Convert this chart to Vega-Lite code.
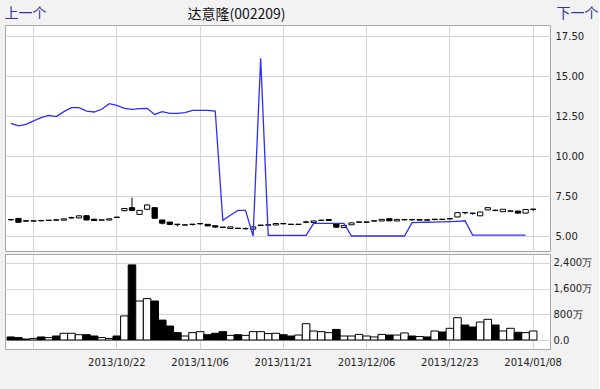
{
  "$schema": "https://vega.github.io/schema/vega-lite/v6.json",
  "padding": {"left": 3, "top": 5, "right": 0, "bottom": 23},
  "background": "#f2f2f2",
  "config": {
    "view": {"fill": "white", "stroke": "#a8a8a8", "strokeWidth": 1},
    "axis": {"labelFont": "DejaVu Sans", "labelFontSize": 10, "labelColor": "#222222", "gridColor": "#d4d4d4", "gridWidth": 1, "ticks": false, "domain": false, "titleFont": "Noto Sans CJK SC", "minExtent": 0},
    "concat": {"spacing": 1}
  },
  "data": {"values": [
    {"date":"2013/09/25","open":6.03,"high":6.08,"low":5.97,"close":6.01,"vol":95,"blue":12.04},
    {"date":"2013/09/26","open":6.10,"high":6.12,"low":5.84,"close":5.86,"vol":75,"blue":11.88},
    {"date":"2013/09/27","open":5.95,"high":5.99,"low":5.89,"close":5.93,"vol":30,"blue":11.98},
    {"date":"2013/09/30","open":5.93,"high":5.96,"low":5.92,"close":5.95,"vol":50,"blue":12.19},
    {"date":"2013/10/08","open":5.97,"high":5.98,"low":5.94,"close":5.95,"vol":95,"blue":12.40},
    {"date":"2013/10/09","open":5.97,"high":6.00,"low":5.96,"close":5.99,"vol":75,"blue":12.54},
    {"date":"2013/10/10","open":6.01,"high":6.02,"low":5.98,"close":5.99,"vol":125,"blue":12.46},
    {"date":"2013/10/11","open":5.99,"high":6.08,"low":5.98,"close":6.07,"vol":210,"blue":12.77},
    {"date":"2013/10/14","open":6.13,"high":6.20,"low":6.09,"close":6.15,"vol":210,"blue":13.02},
    {"date":"2013/10/15","open":6.13,"high":6.28,"low":6.12,"close":6.26,"vol":165,"blue":13.02},
    {"date":"2013/10/16","open":6.27,"high":6.28,"low":5.99,"close":6.00,"vol":165,"blue":12.81},
    {"date":"2013/10/17","open":6.05,"high":6.06,"low":5.95,"close":5.97,"vol":125,"blue":12.75},
    {"date":"2013/10/18","open":5.99,"high":6.02,"low":5.98,"close":6.01,"vol":75,"blue":12.92},
    {"date":"2013/10/21","open":6.00,"high":6.08,"low":5.99,"close":6.07,"vol":50,"blue":13.27},
    {"date":"2013/10/22","open":6.18,"high":6.19,"low":6.15,"close":6.16,"vol":125,"blue":13.17},
    {"date":"2013/10/23","open":6.58,"high":6.74,"low":6.56,"close":6.72,"vol":750,"blue":12.98},
    {"date":"2013/10/24","open":6.77,"high":7.40,"low":6.55,"close":6.60,"vol":2340,"blue":12.92},
    {"date":"2013/10/25","open":6.35,"high":6.62,"low":6.33,"close":6.60,"vol":1215,"blue":12.96},
    {"date":"2013/10/28","open":6.67,"high":6.98,"low":6.65,"close":6.94,"vol":1290,"blue":12.98},
    {"date":"2013/10/29","open":6.77,"high":6.78,"low":6.10,"close":6.11,"vol":1215,"blue":12.60},
    {"date":"2013/10/30","open":6.00,"high":6.01,"low":5.72,"close":5.80,"vol":620,"blue":12.77},
    {"date":"2013/10/31","open":5.87,"high":5.88,"low":5.68,"close":5.72,"vol":436,"blue":12.67},
    {"date":"2013/11/01","open":5.74,"high":5.75,"low":5.60,"close":5.71,"vol":230,"blue":12.67},
    {"date":"2013/11/04","open":5.68,"high":5.71,"low":5.67,"close":5.70,"vol":125,"blue":12.71},
    {"date":"2013/11/05","open":5.72,"high":5.75,"low":5.66,"close":5.74,"vol":230,"blue":12.85},
    {"date":"2013/11/06","open":5.76,"high":5.82,"low":5.72,"close":5.78,"vol":260,"blue":12.85},
    {"date":"2013/11/07","open":5.73,"high":5.74,"low":5.62,"close":5.63,"vol":165,"blue":12.85},
    {"date":"2013/11/08","open":5.64,"high":5.65,"low":5.50,"close":5.56,"vol":210,"blue":12.81},
    {"date":"2013/11/11","open":5.56,"high":5.57,"low":5.52,"close":5.53,"vol":260,"blue":5.98},
    {"date":"2013/11/12","open":5.47,"high":5.58,"low":5.46,"close":5.57,"vol":145,"blue":6.30},
    {"date":"2013/11/13","open":5.49,"high":5.50,"low":5.46,"close":5.47,"vol":165,"blue":6.60},
    {"date":"2013/11/14","open":5.45,"high":5.52,"low":5.41,"close":5.47,"vol":145,"blue":6.60},
    {"date":"2013/11/15","open":5.43,"high":5.58,"low":5.40,"close":5.57,"vol":260,"blue":5.00},
    {"date":"2013/11/18","open":5.66,"high":5.69,"low":5.65,"close":5.68,"vol":260,"blue":16.10},
    {"date":"2013/11/19","open":5.68,"high":5.71,"low":5.67,"close":5.70,"vol":200,"blue":5.04},
    {"date":"2013/11/20","open":5.69,"high":5.79,"low":5.68,"close":5.78,"vol":210,"blue":5.04},
    {"date":"2013/11/21","open":5.78,"high":5.79,"low":5.75,"close":5.76,"vol":165,"blue":5.04},
    {"date":"2013/11/22","open":5.74,"high":5.75,"low":5.71,"close":5.72,"vol":125,"blue":5.04},
    {"date":"2013/11/25","open":5.72,"high":5.75,"low":5.71,"close":5.74,"vol":155,"blue":5.04},
    {"date":"2013/11/26","open":5.86,"high":5.95,"low":5.80,"close":5.88,"vol":508,"blue":5.04},
    {"date":"2013/11/27","open":5.84,"high":5.95,"low":5.83,"close":5.94,"vol":280,"blue":5.79},
    {"date":"2013/11/28","open":5.97,"high":6.02,"low":5.94,"close":5.99,"vol":260,"blue":5.79},
    {"date":"2013/11/29","open":5.97,"high":6.04,"low":5.96,"close":6.03,"vol":230,"blue":5.79},
    {"date":"2013/12/02","open":5.77,"high":5.78,"low":5.52,"close":5.55,"vol":330,"blue":5.79},
    {"date":"2013/12/03","open":5.53,"high":5.67,"low":5.52,"close":5.66,"vol":125,"blue":5.79},
    {"date":"2013/12/04","open":5.70,"high":5.83,"low":5.69,"close":5.82,"vol":125,"blue":5.00},
    {"date":"2013/12/05","open":5.86,"high":5.91,"low":5.83,"close":5.88,"vol":175,"blue":5.00},
    {"date":"2013/12/06","open":5.86,"high":5.89,"low":5.85,"close":5.88,"vol":125,"blue":5.00},
    {"date":"2013/12/09","open":5.93,"high":5.96,"low":5.92,"close":5.95,"vol":95,"blue":5.00},
    {"date":"2013/12/10","open":5.94,"high":6.05,"low":5.93,"close":6.04,"vol":175,"blue":5.00},
    {"date":"2013/12/11","open":6.08,"high":6.09,"low":5.94,"close":5.95,"vol":155,"blue":5.00},
    {"date":"2013/12/12","open":5.94,"high":6.05,"low":5.93,"close":6.04,"vol":155,"blue":5.00},
    {"date":"2013/12/13","open":6.01,"high":6.07,"low":5.97,"close":6.03,"vol":220,"blue":5.00},
    {"date":"2013/12/16","open":6.03,"high":6.07,"low":5.97,"close":6.01,"vol":125,"blue":5.83},
    {"date":"2013/12/17","open":5.99,"high":6.05,"low":5.97,"close":6.03,"vol":110,"blue":5.85},
    {"date":"2013/12/18","open":6.01,"high":6.02,"low":5.98,"close":5.99,"vol":95,"blue":5.86},
    {"date":"2013/12/19","open":6.03,"high":6.06,"low":5.98,"close":6.05,"vol":280,"blue":5.87},
    {"date":"2013/12/20","open":6.05,"high":6.06,"low":6.02,"close":6.03,"vol":250,"blue":5.88},
    {"date":"2013/12/23","open":6.07,"high":6.13,"low":6.03,"close":6.09,"vol":365,"blue":5.90},
    {"date":"2013/12/24","open":6.19,"high":6.48,"low":6.17,"close":6.46,"vol":695,"blue":5.92},
    {"date":"2013/12/25","open":6.47,"high":6.48,"low":6.36,"close":6.45,"vol":467,"blue":5.95},
    {"date":"2013/12/26","open":6.43,"high":6.44,"low":6.33,"close":6.41,"vol":405,"blue":5.06},
    {"date":"2013/12/27","open":6.26,"high":6.51,"low":6.25,"close":6.50,"vol":560,"blue":5.06},
    {"date":"2013/12/30","open":6.63,"high":6.82,"low":6.62,"close":6.77,"vol":645,"blue":5.06},
    {"date":"2013/12/31","open":6.61,"high":6.65,"low":6.55,"close":6.59,"vol":467,"blue":5.06},
    {"date":"2014/01/02","open":6.52,"high":6.68,"low":6.51,"close":6.67,"vol":280,"blue":5.06},
    {"date":"2014/01/03","open":6.55,"high":6.58,"low":6.54,"close":6.57,"vol":365,"blue":5.06},
    {"date":"2014/01/06","open":6.56,"high":6.57,"low":6.42,"close":6.43,"vol":240,"blue":5.06},
    {"date":"2014/01/07","open":6.43,"high":6.67,"low":6.42,"close":6.66,"vol":230,"blue":5.06},
    {"date":"2014/01/08","open":6.66,"high":6.69,"low":6.55,"close":6.68,"vol":280,"blue":null}
  ]},
  "vconcat": [
    {
      "width": 545,
      "height": 226,
      "layer": [
        {
          "mark": {"type": "rule", "color": "black", "strokeWidth": 1},
          "encoding": {
            "x": {"field": "date", "type": "ordinal",
                  "scale": {"type": "band", "paddingInner": 0, "paddingOuter": 1.3333, "align": 0.1375},
                  "axis": {"orient": "bottom", "values": ["2013/09/30","2013/10/22","2013/11/06","2013/11/21","2013/12/06","2013/12/23","2014/01/08"], "labels": false, "grid": true, "bandPosition": 0.5, "title": null, "maxExtent": 0}},
            "y": {"field": "low", "type": "quantitative",
                  "scale": {"domain": [4.0625, 18.1875], "nice": false, "zero": false},
                  "axis": {"orient": "right", "values": [5, 7.5, 10, 12.5, 15, 17.5], "format": ".2f", "grid": true, "labelPadding": 5,
                           "title": "下一个", "titleAngle": 0, "titleX": 6, "titleY": -12, "titleAlign": "left", "titleBaseline": "middle", "titleFontSize": 14, "titleFontWeight": "normal", "titleColor": "#3434a4"}},
            "y2": {"field": "high"}
          }
        },
        {
          "mark": {"type": "bar", "width": {"band": 0.7}, "stroke": "black", "strokeWidth": 1},
          "encoding": {
            "x": {"field": "date", "type": "ordinal", "axis": null},
            "y": {"field": "open", "type": "quantitative", "axis": null},
            "y2": {"field": "close"},
            "fill": {"condition": {"test": "datum.close < datum.open", "value": "black"}, "value": "white"}
          }
        },
        {
          "mark": {"type": "line", "color": "#2d2dff", "strokeWidth": 1.3},
          "encoding": {
            "x": {"field": "date", "type": "ordinal",
                  "axis": {"orient": "top", "labels": false, "grid": false, "title": "达意隆(002209)", "titleX": 231, "titleY": -11, "titleAlign": "center", "titleBaseline": "middle", "titleFontSize": 14, "titleFontWeight": "normal", "titleColor": "#111111"}},
            "y": {"field": "blue", "type": "quantitative",
                  "axis": {"orient": "left", "labels": false, "grid": false, "title": "上一个", "titleAngle": 0, "titleX": -1, "titleY": -12, "titleAlign": "left", "titleBaseline": "middle", "titleFontSize": 14, "titleFontWeight": "normal", "titleColor": "#3434a4"}}
          }
        }
      ],
      "resolve": {"axis": {"x": "independent", "y": "independent"}}
    },
    {
      "width": 545,
      "height": 95,
      "mark": {"type": "bar", "stroke": "black", "strokeWidth": 1},
      "encoding": {
        "x": {"field": "date", "type": "ordinal",
              "scale": {"type": "band", "paddingInner": 0, "paddingOuter": 1.3333, "align": 0.1375},
              "axis": {"values": ["2013/09/30","2013/10/22","2013/11/06","2013/11/21","2013/12/06","2013/12/23","2014/01/08"], "grid": true, "bandPosition": 0.5, "labelAngle": 0, "labelPadding": 8, "title": null,
                       "labelExpr": "datum.value == '2013/09/30' ? '' : datum.value"}},
        "y": {"field": "vol", "type": "quantitative", "stack": null,
              "scale": {"domain": [-280, 2680], "nice": false, "zero": false},
              "axis": {"orient": "right", "values": [0, 800, 1600, 2400], "grid": true, "labelPadding": 3, "title": null,
                       "labelExpr": "datum.value == 0 ? '0.0' : format(datum.value, ',') + '万'"}},
        "y2": {"datum": 0},
        "fill": {"condition": {"test": "datum.close < datum.open", "value": "black"}, "value": "white"}
      }
    }
  ]
}
